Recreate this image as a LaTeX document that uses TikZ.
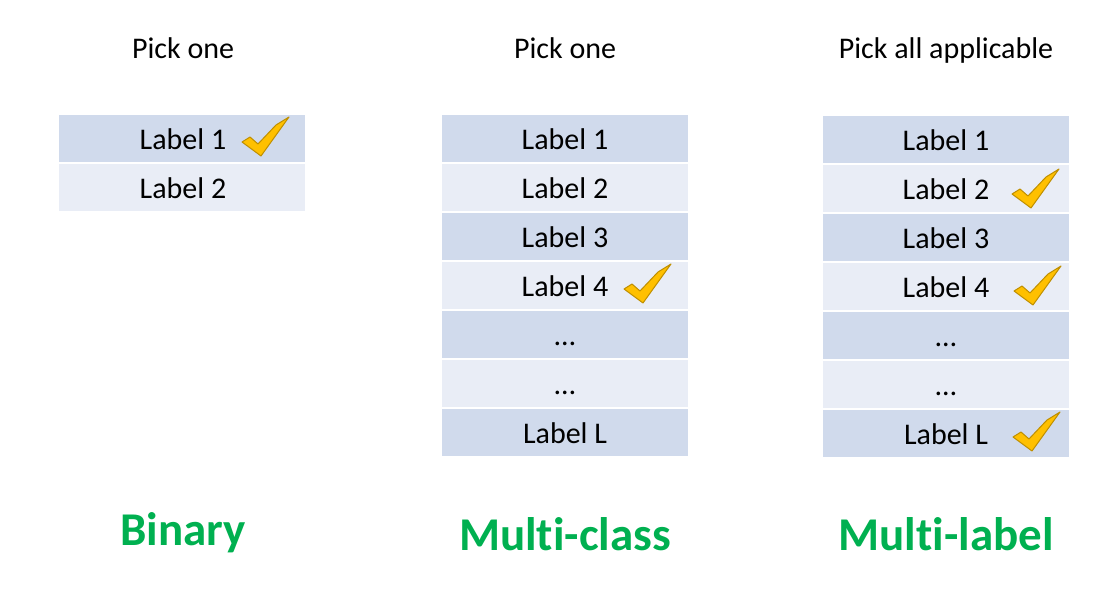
\documentclass[tikz,border=0pt]{standalone}
\usepackage{fontspec}
\setmainfont[Ligatures=NoCommon]{Carlito}
\definecolor{rowdark}{HTML}{D0DAEC}
\definecolor{rowlight}{HTML}{E9EDF6}
\definecolor{chkfill}{HTML}{FFC000}
\definecolor{chkline}{HTML}{BF8F00}
\definecolor{titlegreen}{HTML}{00B050}
\tikzset{
  labeltext/.style={anchor=base, inner sep=0pt, font=\fontsize{30}{36}\selectfont},
  heading/.style={anchor=base, inner sep=0pt, font=\fontsize{30}{36}\selectfont},
  title/.style={anchor=base, inner sep=0pt, text=titlegreen, font=\fontsize{47}{56}\selectfont\bfseries},
  chk/.pic={\filldraw[fill=chkfill, draw=chkline, line width=1pt, line join=round]
     (0,25) -- (19,39) -- (47,0) -- (34,8) -- (16,27) -- (8,20) -- cycle;}
}
\begin{document}
\begin{tikzpicture}[x=1pt,y=-1pt]
\useasboundingbox (0,0) rectangle (1111,602);
% headings
\node[heading] (h1) at (183,59) {Pick one};
\node[heading] (h2) at (565,59) {Pick one};
\node[heading] (h3) at (946,59) {Pick all applicable};
% Binary column
\fill[rowdark] (59,115) rectangle (305,162);
\fill[rowlight] (59,164) rectangle (305,211);
\node[labeltext] (b1) at (183,149) {Label 1};
\node[labeltext] (b2) at (183,198) {Label 2};
\pic at (242,117) {chk};
% Multi-class column
\foreach \i/\t [count=\k from 0] in {1/Label 1,2/Label 2,3/Label 3,4/Label 4,5/…,6/…,7/Label L}{
  \pgfmathsetmacro{\yy}{115+49*\k}
  \pgfmathtruncatemacro{\parity}{mod(\k,2)}
  \ifnum\parity=0 \fill[rowdark] (442,\yy) rectangle (688,\yy+47);
  \else \fill[rowlight] (442,\yy) rectangle (688,\yy+47); \fi
  \node[labeltext] (mc\i) at (565,\yy+34) {\t};
}
\pic at (624,264) {chk};
% Multi-label column
\foreach \i/\t [count=\k from 0] in {1/Label 1,2/Label 2,3/Label 3,4/Label 4,5/…,6/…,7/Label L}{
  \pgfmathsetmacro{\yy}{116+49*\k}
  \pgfmathtruncatemacro{\parity}{mod(\k,2)}
  \ifnum\parity=0 \fill[rowdark] (823,\yy) rectangle (1069,\yy+47);
  \else \fill[rowlight] (823,\yy) rectangle (1069,\yy+47); \fi
  \node[labeltext] (ml\i) at (946,\yy+34) {\t};
}
\pic at (1012,169) {chk};
\pic at (1014,266) {chk};
\pic at (1013,412) {chk};
% titles
\node[title] (t1) at (183,545) {Binary};
\node[title] (t2) at (565,550) {Multi-class};
\node[title] (t3) at (946,550) {Multi-label};
\end{tikzpicture}
\end{document}
